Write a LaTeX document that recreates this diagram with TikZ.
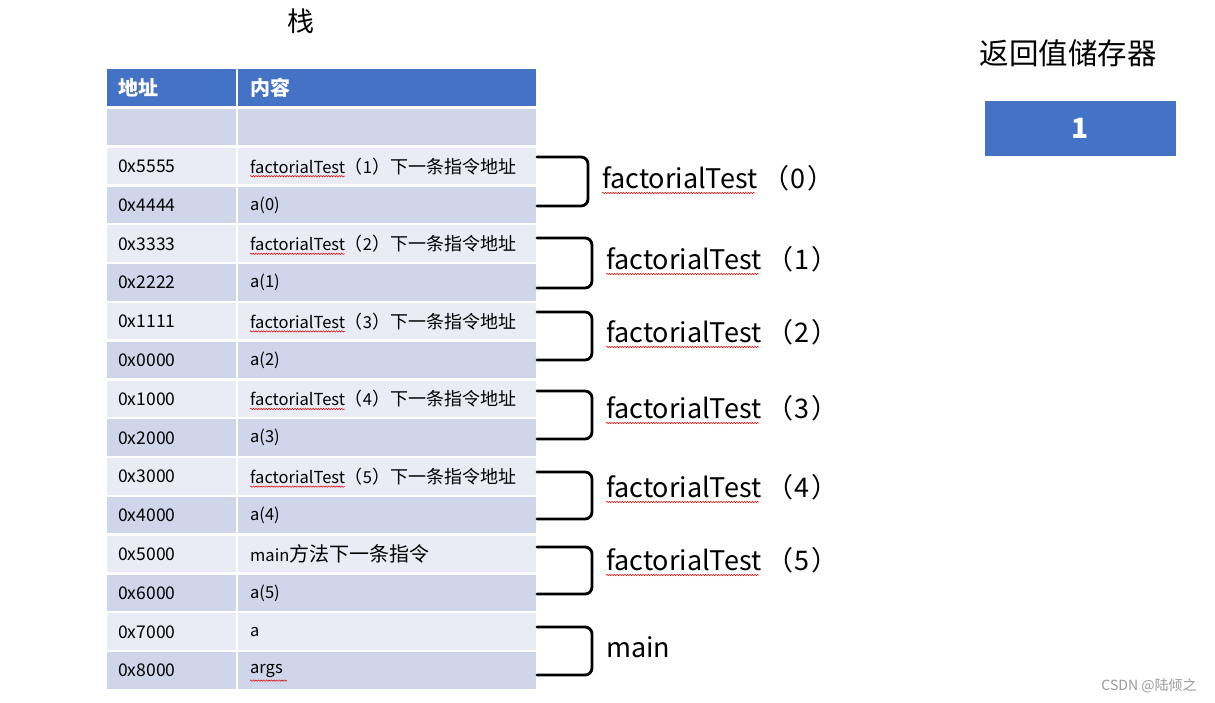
\documentclass[tikz,border=0pt]{standalone}
\usepackage{fontspec}
\setmainfont{Noto Sans CJK SC}
\usetikzlibrary{decorations.pathmorphing}
\definecolor{hdr}{HTML}{4472C4}
\definecolor{rowdark}{HTML}{CFD5EA}
\definecolor{rowlight}{HTML}{E9EBF5}
\definecolor{wm}{HTML}{9A9A9A}
\newcommand\Lt[1]{{\fontsize{16.5}{18}\selectfont #1}}
\newcommand\Pn[1]{\hspace{5pt}（\hspace{1.5pt}\Lt{#1}\hspace{1.5pt}）}
\tikzset{
  cellbox/.style={inner sep=0pt, outer sep=0pt},
  celltxt/.style={anchor=west, inner sep=0pt, font=\fontsize{18}{20}\selectfont},
  addrtxt/.style={anchor=west, inner sep=0pt, font=\fontsize{17.5}{20}\selectfont},
  hdrtxt/.style={anchor=west, inner sep=0pt, text=white, font=\fontsize{20}{22}\selectfont\bfseries},
  biglabel/.style={anchor=west, inner sep=0pt, font=\fontsize{27}{30}\selectfont},
  brk/.style={line width=2.8pt, rounded corners=7pt, line cap=round},
  squig/.style={draw=red!85!black, line width=0.5pt, decorate, decoration={snake, amplitude=0.7pt, segment length=2.6pt}}
}
\begin{document}
\begin{tikzpicture}[x=1pt,y=-1pt]
\useasboundingbox (0,0) rectangle (1215,702);
\fill[white] (0,0) rectangle (1215,702);

% title
\node[inner sep=0pt, font=\fontsize{27}{30}\selectfont] (title) at (301,21) {栈};

% header
\fill[hdr] (107,69) rectangle (236,106);
\fill[hdr] (238,69) rectangle (536,106);
\node[hdrtxt] (h1) at (118,88) {地址};
\node[hdrtxt] (h2) at (250,88) {内容};

% rows
\foreach \i/\addr/\cont/\sq in {
  1///0,
  2/0x5555/\Lt{factorialTest}（\Lt{1}）下一条指令地址/1,
  3/0x4444/\Lt{a(0)}/0,
  4/0x3333/\Lt{factorialTest}（\Lt{2}）下一条指令地址/1,
  5/0x2222/\Lt{a(1)}/0,
  6/0x1111/\Lt{factorialTest}（\Lt{3}）下一条指令地址/1,
  7/0x0000/\Lt{a(2)}/0,
  8/0x1000/\Lt{factorialTest}（\Lt{4}）下一条指令地址/1,
  9/0x2000/\Lt{a(3)}/0,
  10/0x3000/\Lt{factorialTest}（\Lt{5}）下一条指令地址/1,
  11/0x4000/\Lt{a(4)}/0,
  12/0x5000/\Lt{main}{\fontsize{20}{22}\selectfont 方法下一条指令}/0,
  13/0x6000/\Lt{a(5)}/0,
  14/0x7000/\Lt{a}/0,
  15/0x8000/\Lt{args}/2}{
  \pgfmathsetmacro{\top}{69+38.8*\i+1.2}
  \pgfmathsetmacro{\bot}{69+38.8*(\i+1)-1.2}
  \pgfmathsetmacro{\mid}{69+38.8*\i+19.6}
  \pgfmathtruncatemacro{\odd}{mod(\i,2)}
  \ifnum\odd=1 \def\rc{rowdark}\else\def\rc{rowlight}\fi
  \fill[\rc] (107,\top) rectangle (236,\bot);
  \fill[\rc] (238,\top) rectangle (536,\bot);
  \node[addrtxt] (a\i) at (118,\mid) {\addr};
  \node[celltxt] (c\i) at (250,\mid) {\cont};
  \ifnum\sq=1 \draw[squig] (250,\mid+10) -- (345,\mid+10);\fi
  \ifnum\sq=2 \draw[squig] (250,\mid+10) -- (287,\mid+10);\fi
}

% brackets and labels
\foreach \n/\t/\b/\r/\lx/\ly/\lab/\sw in {
  0/157/206/588/602/178/factorialTest\Pn{0}/153,
  1/238/288/592/606/259/factorialTest\Pn{1}/153,
  2/312/360/592/606/332/factorialTest\Pn{2}/153,
  3/391/439/592/606/408/factorialTest\Pn{3}/153,
  4/472/519/592/606/487/factorialTest\Pn{4}/153,
  5/547/594/592/606/560/factorialTest\Pn{5}/153,
  6/627/675/592/606/647/main/0}{
  \coordinate (bt\n) at (537,\t);
  \coordinate (bb\n) at (537,\b);
  \node[biglabel] (L\n) at (\lx,\ly) {\renewcommand\Lt[1]{##1}\lab};
  \draw[brk] (bt\n) -- (\r,\t) -- (\r,\b) -- (bb\n);
  \ifnum\sw>0 \draw[squig] (\lx,\ly+15) -- (\lx+\sw,\ly+15);\fi
}

% return register
\node[inner sep=0pt, font=\fontsize{29.5}{32}\selectfont] (rt) at (1068,53) {返回值储存器};
\node[cellbox, fill=hdr, minimum width=191pt, minimum height=55pt, text=white, font=\fontsize{28}{30}\selectfont\bfseries] (reg) at (1080.5,128.5) {1};

% watermark
\node[inner sep=0pt, text=wm, font=\fontsize{14}{16}\selectfont] (wm) at (1149,686) {CSDN @陆倾之};
\end{tikzpicture}
\end{document}
